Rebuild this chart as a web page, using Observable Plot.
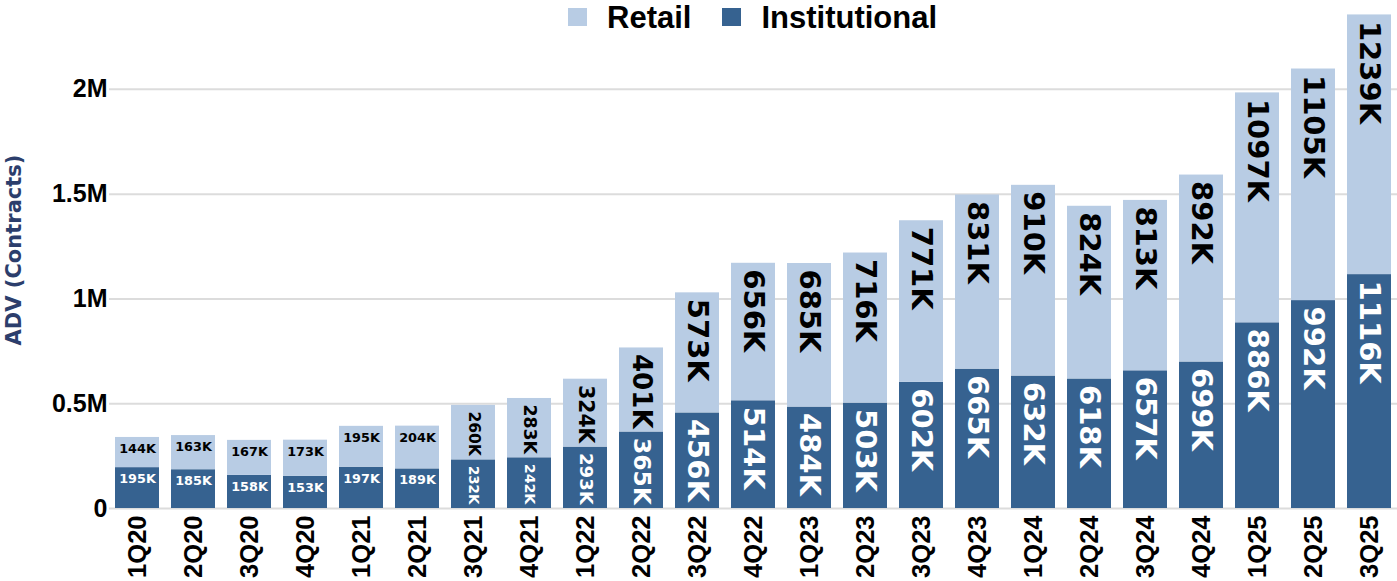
<!DOCTYPE html>
<html>
<head>
<meta charset="utf-8">
<script src="https://cdn.jsdelivr.net/npm/d3@7"></script>
<script src="https://cdn.jsdelivr.net/npm/@observablehq/plot@0.6"></script>
<style>
  html, body { margin: 0; padding: 0; background: #fff; }
  #wrap { position: relative; width: 1397px; height: 581px; overflow: hidden; }
  #legend { position: absolute; top: 0px; left: 568px; display: flex; align-items: flex-start;
            font: bold 31px "Liberation Sans", Arial, sans-serif; line-height: normal; color: #000; white-space: nowrap; }
  #legend .sw { width: 19px; height: 18px; display: inline-block; margin-right: 20px; margin-top: 8px; }
  #legend .item { display: flex; align-items: flex-start; margin-right: 31px; }
  #ytitle { position: absolute; left: 14px; top: 250px; transform: translate(-50%, -50%) rotate(-90deg);
            font: bold 21px "DejaVu Sans", Verdana, sans-serif; color: #2c3e6c; white-space: nowrap; }
</style>
</head>
<body>
<div id="wrap">
  <div id="chart"></div>
  <div id="legend"></div>
  <div id="ytitle">ADV (Contracts)</div>
</div>
<script>
// ---- data (thousands of contracts) ----
const quarters = ["1Q20","2Q20","3Q20","4Q20","1Q21","2Q21","3Q21","4Q21","1Q22","2Q22","3Q22","4Q22",
                  "1Q23","2Q23","3Q23","4Q23","1Q24","2Q24","3Q24","4Q24","1Q25","2Q25","3Q25"];
const institutional = [195,185,158,153,197,189,232,242,293,365,456,514,484,503,602,665,632,618,657,699,886,992,1116];
const retail = [144,163,167,173,195,204,260,283,324,401,573,656,685,716,771,831,910,824,813,892,1097,1105,1239];
const seriesNames = ["Retail", "Institutional"];
const yTicks = [0, 500000, 1000000, 1500000, 2000000];
const colors = {Retail: "#b8cce4", Institutional: "#366290"};

// ---- build rows ----
const rows = [];
quarters.forEach((q, i) => {
  const inst = institutional[i] * 1000, ret = retail[i] * 1000;
  rows.push({q, type: "Institutional", value: institutional[i], y1: 0, y2: inst});
  rows.push({q, type: "Retail", value: retail[i], y1: inst, y2: inst + ret});
});

const W = 1397, H = 581, mTop = 5, mBottom = 73;
const yMax = 2400000;
const pxPerUnit = (H - mTop - mBottom) / yMax;
rows.forEach(d => {
  const h = (d.y2 - d.y1) * pxPerUnit;
  const s = Math.min(29, (h - 11) / 2.8);
  d.vertical = s >= 13;
  d.size = d.vertical ? s : 12.8;
  d.label = d.value + "K";
});

const labelFont = "'DejaVu Sans', Verdana, sans-serif";
const textOpts = (type, vertical) => ({
  x: "q", y: "y2", text: "label",
  fill: type === "Institutional" ? "white" : "black",
  fontFamily: labelFont, fontWeight: "bold",
  fontSize: "size",
  ...(vertical ? {rotate: 90, textAnchor: "start", dy: 6} : {dy: 11.5})
});
const sel = (type, vertical) => rows.filter(d => d.type === type && d.vertical === vertical);

const chart = Plot.plot({
  width: W, height: H,
  marginLeft: 109, marginRight: 0, marginTop: mTop, marginBottom: mBottom,
  style: {fontFamily: "'Liberation Sans', Arial, sans-serif", background: "white"},
  x: {domain: quarters, padding: 0.2143, paddingOuter: 0.107, label: null},
  y: {domain: [0, yMax], label: null},
  color: {domain: seriesNames, range: seriesNames.map(n => colors[n])},
  marks: [
    Plot.gridY(yTicks, {stroke: "#dcdcdc", strokeOpacity: 1, strokeWidth: 2}),
    Plot.barY(rows, {x: "q", y1: "y1", y2: "y2", fill: "type"}),
    Plot.text(sel("Institutional", true), textOpts("Institutional", true)),
    Plot.text(sel("Institutional", false), textOpts("Institutional", false)),
    Plot.text(sel("Retail", true), textOpts("Retail", true)),
    Plot.text(sel("Retail", false), textOpts("Retail", false)),
    Plot.axisY({ticks: yTicks, tickSize: 0, tickPadding: 2, fontSize: 25, fontWeight: "bold", label: null,
      tickFormat: d => d === 0 ? "0" : (d / 1e6) + "M"}),
    Plot.axisX({tickRotate: -90, tickSize: 0, tickPadding: 7, fontSize: 25.5, fontWeight: "bold", label: null})
  ]
});
chart.querySelectorAll("text").forEach(t => t.setAttribute("fill-opacity", "1"));
document.getElementById("chart").appendChild(chart);

// legend
const lg = document.getElementById("legend");
seriesNames.forEach(n => {
  const item = document.createElement("span");
  item.className = "item";
  const sw = document.createElement("span");
  sw.className = "sw";
  sw.style.background = colors[n];
  item.appendChild(sw);
  item.appendChild(document.createTextNode(n));
  lg.appendChild(item);
});
</script>
</body>
</html>
